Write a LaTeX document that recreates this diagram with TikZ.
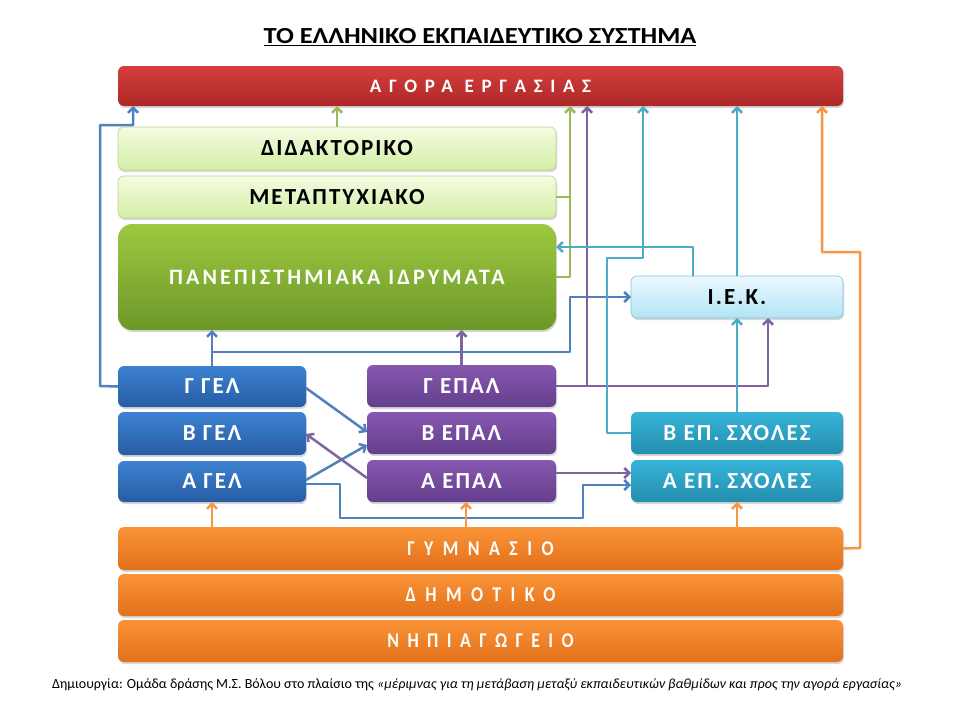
\documentclass[tikz,border=0pt]{standalone}
\usepackage{fontspec}
\setmainfont{Carlito}
\newfontfamily\titlefont[FakeStretch=1.15]{Carlito}
\newfontfamily\boxfont[LetterSpace=9]{Carlito}
\newfontfamily\panfont[LetterSpace=14]{Carlito}
\newfontfamily\widefont[LetterSpace=40]{Carlito}
\newfontfamily\condfont[LetterSpace=45,FakeStretch=0.85]{Carlito}
\newfontfamily\condnarrowfont[LetterSpace=40,FakeStretch=0.85]{Carlito}
\usetikzlibrary{arrows.meta,shadows,calc}
\definecolor{cBlue}{HTML}{4F81BD}
\definecolor{cGreen}{HTML}{9BBB59}
\definecolor{cPurple}{HTML}{8064A2}
\definecolor{cTeal}{HTML}{4BACC6}
\definecolor{cOrange}{HTML}{F79646}
\tikzset{
  basebox/.style={rectangle, rounded corners=6pt, inner sep=0pt, outer sep=0pt,
    anchor=north west, text=white,
    drop shadow={opacity=0.3, shadow xshift=1pt, shadow yshift=-2pt}},
  redbox/.style={basebox, top color={rgb,255:red,214;green,62;blue,62}, bottom color={rgb,255:red,172;green,40;blue,40},
    font=\widefont\bfseries\fontsize{19}{22}\selectfont},
  lgbox/.style={basebox, top color={rgb,255:red,244;green,252;blue,226}, bottom color={rgb,255:red,212;green,238;blue,166},
    draw={rgb,255:red,184;green,214;blue,140}, line width=0.6pt, text=black,
    font=\boxfont\bfseries\fontsize{23}{26}\selectfont},
  gbox/.style={basebox, rounded corners=14pt, top color={rgb,255:red,158;green,200;blue,64}, bottom color={rgb,255:red,108;green,152;blue,42},
    font=\panfont\bfseries\fontsize{22}{26}\selectfont},
  iekbox/.style={basebox, top color={rgb,255:red,236;green,249;blue,254}, bottom color={rgb,255:red,178;green,228;blue,245},
    draw={rgb,255:red,130;green,196;blue,222}, line width=0.6pt, text=black,
    font=\boxfont\bfseries\fontsize{23}{26}\selectfont},
  bluebox/.style={basebox, top color={rgb,255:red,60;green,130;blue,208}, bottom color={rgb,255:red,40;green,92;blue,164},
    font=\boxfont\bfseries\fontsize{23}{26}\selectfont},
  purbox/.style={basebox, top color={rgb,255:red,134;green,88;blue,176}, bottom color={rgb,255:red,100;green,62;blue,140},
    font=\boxfont\bfseries\fontsize{23}{26}\selectfont},
  tealbox/.style={basebox, top color={rgb,255:red,54;green,180;blue,216}, bottom color={rgb,255:red,36;green,142;blue,174},
    font=\boxfont\bfseries\fontsize{23}{26}\selectfont},
  orbox/.style={basebox, top color={rgb,255:red,250;green,148;blue,56}, bottom color={rgb,255:red,226;green,112;blue,26},
    font=\condfont\bfseries\fontsize{21}{24}\selectfont},
  conn/.style={line width=2.5pt, line join=round, -{Straight Barb[length=5pt,width=10pt]}},
  link/.style={line width=2.5pt, line join=round},
}
\begin{document}
\begin{tikzpicture}[x=1pt,y=-1pt]
\useasboundingbox (0,0) rectangle (960,720);
\fill[white] (0,0) rectangle (960,720);
% title
\node[font=\titlefont\bfseries\fontsize{23}{27}\selectfont] (title) at (480,37) {\underline{ΤΟ ΕΛΛΗΝΙΚΟ ΕΚΠΑΙΔΕΥΤΙΚΟ ΣΥΣΤΗΜΑ}};
% boxes
\node[redbox, minimum width=725pt, minimum height=40pt] (agora) at (118,66) {ΑΓΟΡΑ ΕΡΓΑΣΙΑΣ};
\node[lgbox, minimum width=438pt, minimum height=43pt] (didak) at (118,127) {ΔΙΔΑΚΤΟΡΙΚΟ};
\node[lgbox, minimum width=438pt, minimum height=42pt] (metapt) at (118,176) {ΜΕΤΑΠΤΥΧΙΑΚΟ};
\node[gbox, minimum width=438pt, minimum height=106pt] (panep) at (118,224) {ΠΑΝΕΠΙΣΤΗΜΙΑΚΑ ΙΔΡΥΜΑΤΑ};
\node[iekbox, minimum width=212pt, minimum height=42pt] (iek) at (631,276) {Ι.Ε.Κ.};
\node[bluebox, minimum width=188pt, minimum height=41pt] (ggel) at (118,366) {Γ ΓΕΛ};
\node[bluebox, minimum width=188pt, minimum height=43pt] (bgel) at (118,412) {Β ΓΕΛ};
\node[bluebox, minimum width=188pt, minimum height=41pt] (agel) at (118,461) {Α ΓΕΛ};
\node[purbox, minimum width=189pt, minimum height=42pt] (gepal) at (367,365) {Γ ΕΠΑΛ};
\node[purbox, minimum width=189pt, minimum height=42pt] (bepal) at (367,412) {Β ΕΠΑΛ};
\node[purbox, minimum width=189pt, minimum height=42pt] (aepal) at (367,460) {Α ΕΠΑΛ};
\node[tealbox, minimum width=212pt, minimum height=42pt] (bepsx) at (631,412) {Β ΕΠ. ΣΧΟΛΕΣ};
\node[tealbox, minimum width=212pt, minimum height=42pt] (aepsx) at (631,460) {Α ΕΠ. ΣΧΟΛΕΣ};
\node[orbox, minimum width=725pt, minimum height=43pt] (gym) at (118,527) {ΓΥΜΝΑΣΙΟ};
\node[orbox, minimum width=725pt, minimum height=42pt] (dim) at (118,574) {ΔΗΜΟΤΙΚΟ};
\node[orbox, minimum width=725pt, minimum height=42pt, font=\condnarrowfont\bfseries\fontsize{21}{24}\selectfont] (nip) at (118,620) {ΝΗΠΙΑΓΩΓΕΙΟ};
% footer
\node[font=\fontsize{14}{16}\selectfont] (foot) at (477,685) {Δημιουργία: Ομάδα δράσης Μ.Σ. Βόλου στο πλαίσιο της \textit{«μέριμνας για τη μετάβαση μεταξύ εκπαιδευτικών βαθμίδων και προς την αγορά εργασίας»}};
% connectors
% green
\draw[conn, cGreen] (didak.north) -- (didak.north |- agora.south);
\draw[link, cGreen] (metapt.east) -- (570,197);
\draw[conn, cGreen] (panep.east) -- (570,277) -- (570,106);
% blue
\draw[conn, cBlue] (ggel.west) -- (100,386) -- (100,125) -- (133,125) -- (133,106);
\draw[conn, cBlue] (ggel.north) -- (ggel.north |- panep.south);
\draw[conn, cBlue] (212,352) -- (570,352) -- (570,297) -- (iek.west);
\draw[conn, cBlue] (306,388) -- (367,432);
\draw[conn, cBlue] (306,480) -- (367,445);
\draw[conn, cBlue] (306,484) -- (340,484) -- (340,518) -- (583,518) -- (583,485) -- (631,485);
% purple
\draw[conn, cPurple] (gepal.north) -- (gepal.north |- panep.south);
\draw[conn, cPurple] (gepal.east) -- (768,386) -- (768,318);
\draw[conn, cPurple] (587,386) -- (587,106);
\draw[conn, cPurple] (367,478) -- (306,434);
\draw[conn, cPurple] (556,473) -- (631,473);
% teal
\draw[conn, cTeal] (bepsx.west) -- (607,433) -- (607,258) -- (643,258) -- (643,106);
\draw[conn, cTeal] (bepsx.north) -- (iek.south);
\draw[conn, cTeal] (iek.north) -- (iek.north |- agora.south);
\draw[conn, cTeal] (693,276) -- (693,247) -- (556,247);
% orange
\draw[conn, cOrange] (gym.east) -- (860,548) -- (860,252) -- (822,252) -- (822,106);
\draw[conn, cOrange] (212,527) -- (agel.south);
\draw[conn, cOrange] (466,527) -- (466,502);
\draw[conn, cOrange] (aepsx.south |- gym.north) -- (aepsx.south);
\end{tikzpicture}
\end{document}
